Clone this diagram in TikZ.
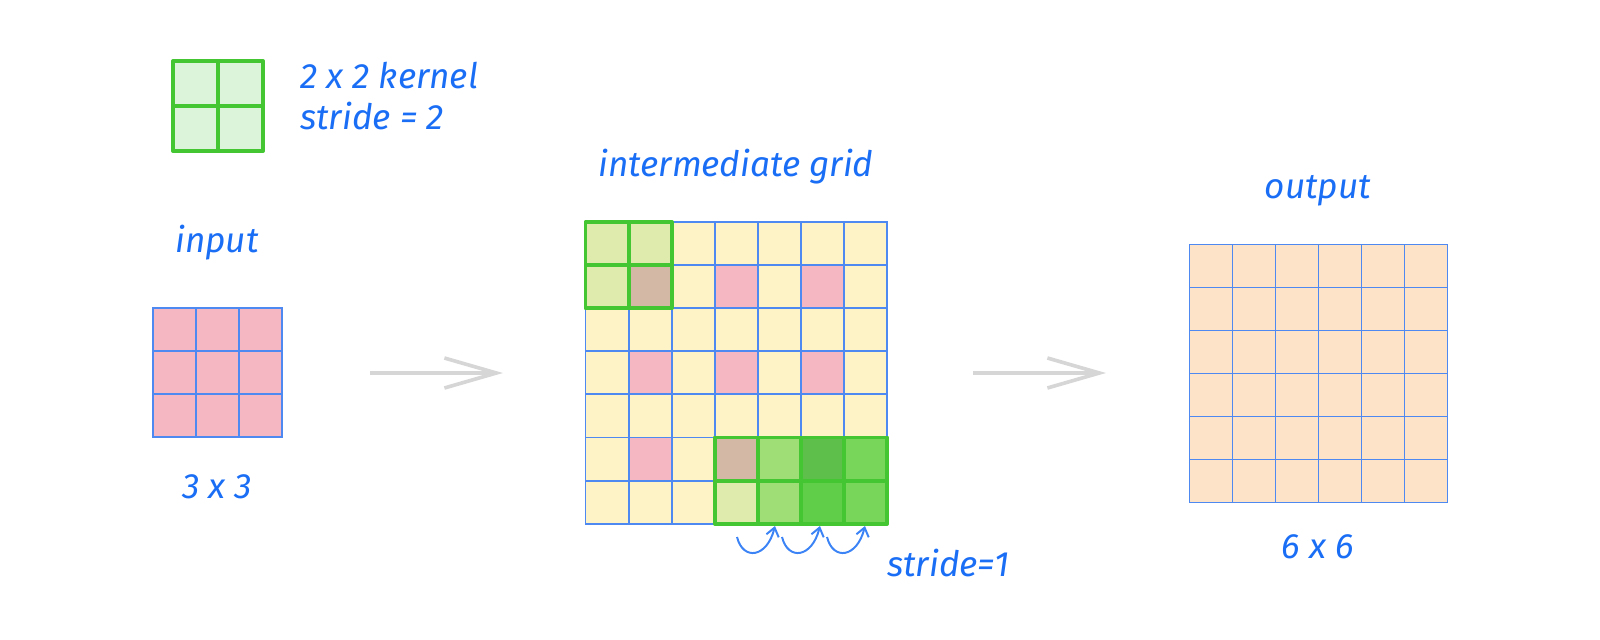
\documentclass[tikz,border=0pt]{standalone}
\usepackage{fontspec}
\setmainfont{Fira Sans}
\usetikzlibrary{calc,arrows.meta}

\definecolor{txtblue}{HTML}{1A6EF5}
\definecolor{lineblue}{HTML}{4D89F0}
\definecolor{inpink}{HTML}{F5B7C2}
\definecolor{midyellow}{HTML}{FDF3C7}
\definecolor{outpeach}{HTML}{FDE3C8}
\definecolor{kgreen}{HTML}{44C632}
\definecolor{klight}{HTML}{DCF5DA}
\definecolor{kylw}{HTML}{DFEAAD}
\definecolor{kpink}{HTML}{D4B8A6}
\definecolor{kgone}{HTML}{9FDD76}
\definecolor{kgtwo}{HTML}{60CE48}
\definecolor{kgthree}{HTML}{5EC04A}
\definecolor{kgfour}{HTML}{78D65A}

\begin{document}
\begin{tikzpicture}[x=0.025cm,y=-0.025cm,
    lbl/.style={text=txtblue,font=\fontsize{25}{30}\selectfont\itshape,inner sep=0pt},
    cell/.style={draw=lineblue,line width=1.4pt},
    kcell/.style={draw=kgreen,line width=2.8pt,line join=round},
    grayarr/.style={draw=black!16,line width=3.2pt,
        -{Straight Barb[length=1.3cm,width=0.75cm,line width=2.6pt]}},
    hop/.style={draw=txtblue!85,line width=1.4pt,-{Straight Barb[length=6pt,width=9pt]}}]
    \useasboundingbox (0,0) rectangle (1600,639);
    \def\c{43}
    \def\m{43.1}
    % kernel legend
    \coordinate (leg) at (173,61);
    \foreach \i in {0,1} \foreach \j in {0,1}
        \draw[kcell,fill=klight] ($(leg)+(\i*45,\j*45)$) rectangle ++(45,45);
    \node[lbl,anchor=base west] (ktxt) at (300,88) {2 x 2 kernel};
    \node[lbl,anchor=base west] (stxt) at (300,129) {stride = 2};
    % input 3x3
    \coordinate (in) at (153,308);
    \foreach \i in {0,1,2} \foreach \j in {0,1,2}
        \draw[cell,fill=inpink] ($(in)+(\i*\c,\j*\c)$) rectangle ++(\c,\c);
    \node[lbl,anchor=base] (intxt) at (217,252) {input};
    \node[lbl,anchor=base] (insize) at (217,498) {3 x 3};
    % intermediate grid
    \coordinate (mid) at (585.5,222);
    \foreach \i in {0,...,6} \foreach \j in {0,...,6}
        \draw[cell,fill=midyellow] ($(mid)+(\i*\m,\j*\m)$) rectangle ++(\m,\m);
    \foreach \i in {1,3,5} \foreach \j in {1,3,5}
        \draw[cell,fill=inpink] ($(mid)+(\i*\m,\j*\m)$) rectangle ++(\m,\m); % input values
    \foreach \i/\j/\col in {0/0/kylw,1/0/kylw,0/1/kylw,1/1/kpink,
                            3/5/kpink,3/6/kylw,4/5/kgone,4/6/kgone,
                            5/5/kgthree,5/6/kgtwo,6/5/kgfour,6/6/kgfour}
        \draw[kcell,fill=\col] ($(mid)+(\i*\m,\j*\m)$) rectangle ++(\m,\m); % kernel positions
    \node[lbl,anchor=base] (midtxt) at (736,176) {intermediate grid};
    % output 6x6
    \coordinate (out) at (1189.5,244.5);
    \foreach \i in {0,...,5} \foreach \j in {0,...,5}
        \draw[cell,fill=outpeach] ($(out)+(\i*\c,\j*\c)$) rectangle ++(\c,\c);
    \node[lbl,anchor=base] (outtxt) at (1318,198) {output};
    \node[lbl,anchor=base] (outsize) at (1318,558) {6 x 6};
    % arrows between grids
    \coordinate (a1) at (370,373);
    \coordinate (b1) at (503,373);
    \coordinate (a2) at (973,373);
    \coordinate (b2) at (1106,373);
    \draw[grayarr] (a1) -- (b1);
    \draw[grayarr] (a2) -- (b2);
    % stride hops
    \foreach \k in {0,1,2} {
        \coordinate (h\k) at (737+45*\k,537);
        \coordinate (t\k) at (775+45*\k,526);
        \draw[hop] (h\k) .. controls ($(h\k)+(6,24)$) and ($(t\k)+(-8,32)$) .. (t\k);
    }
    \node[lbl,anchor=base west] (stride) at (887,576) {stride=1};
\end{tikzpicture}
\end{document}
